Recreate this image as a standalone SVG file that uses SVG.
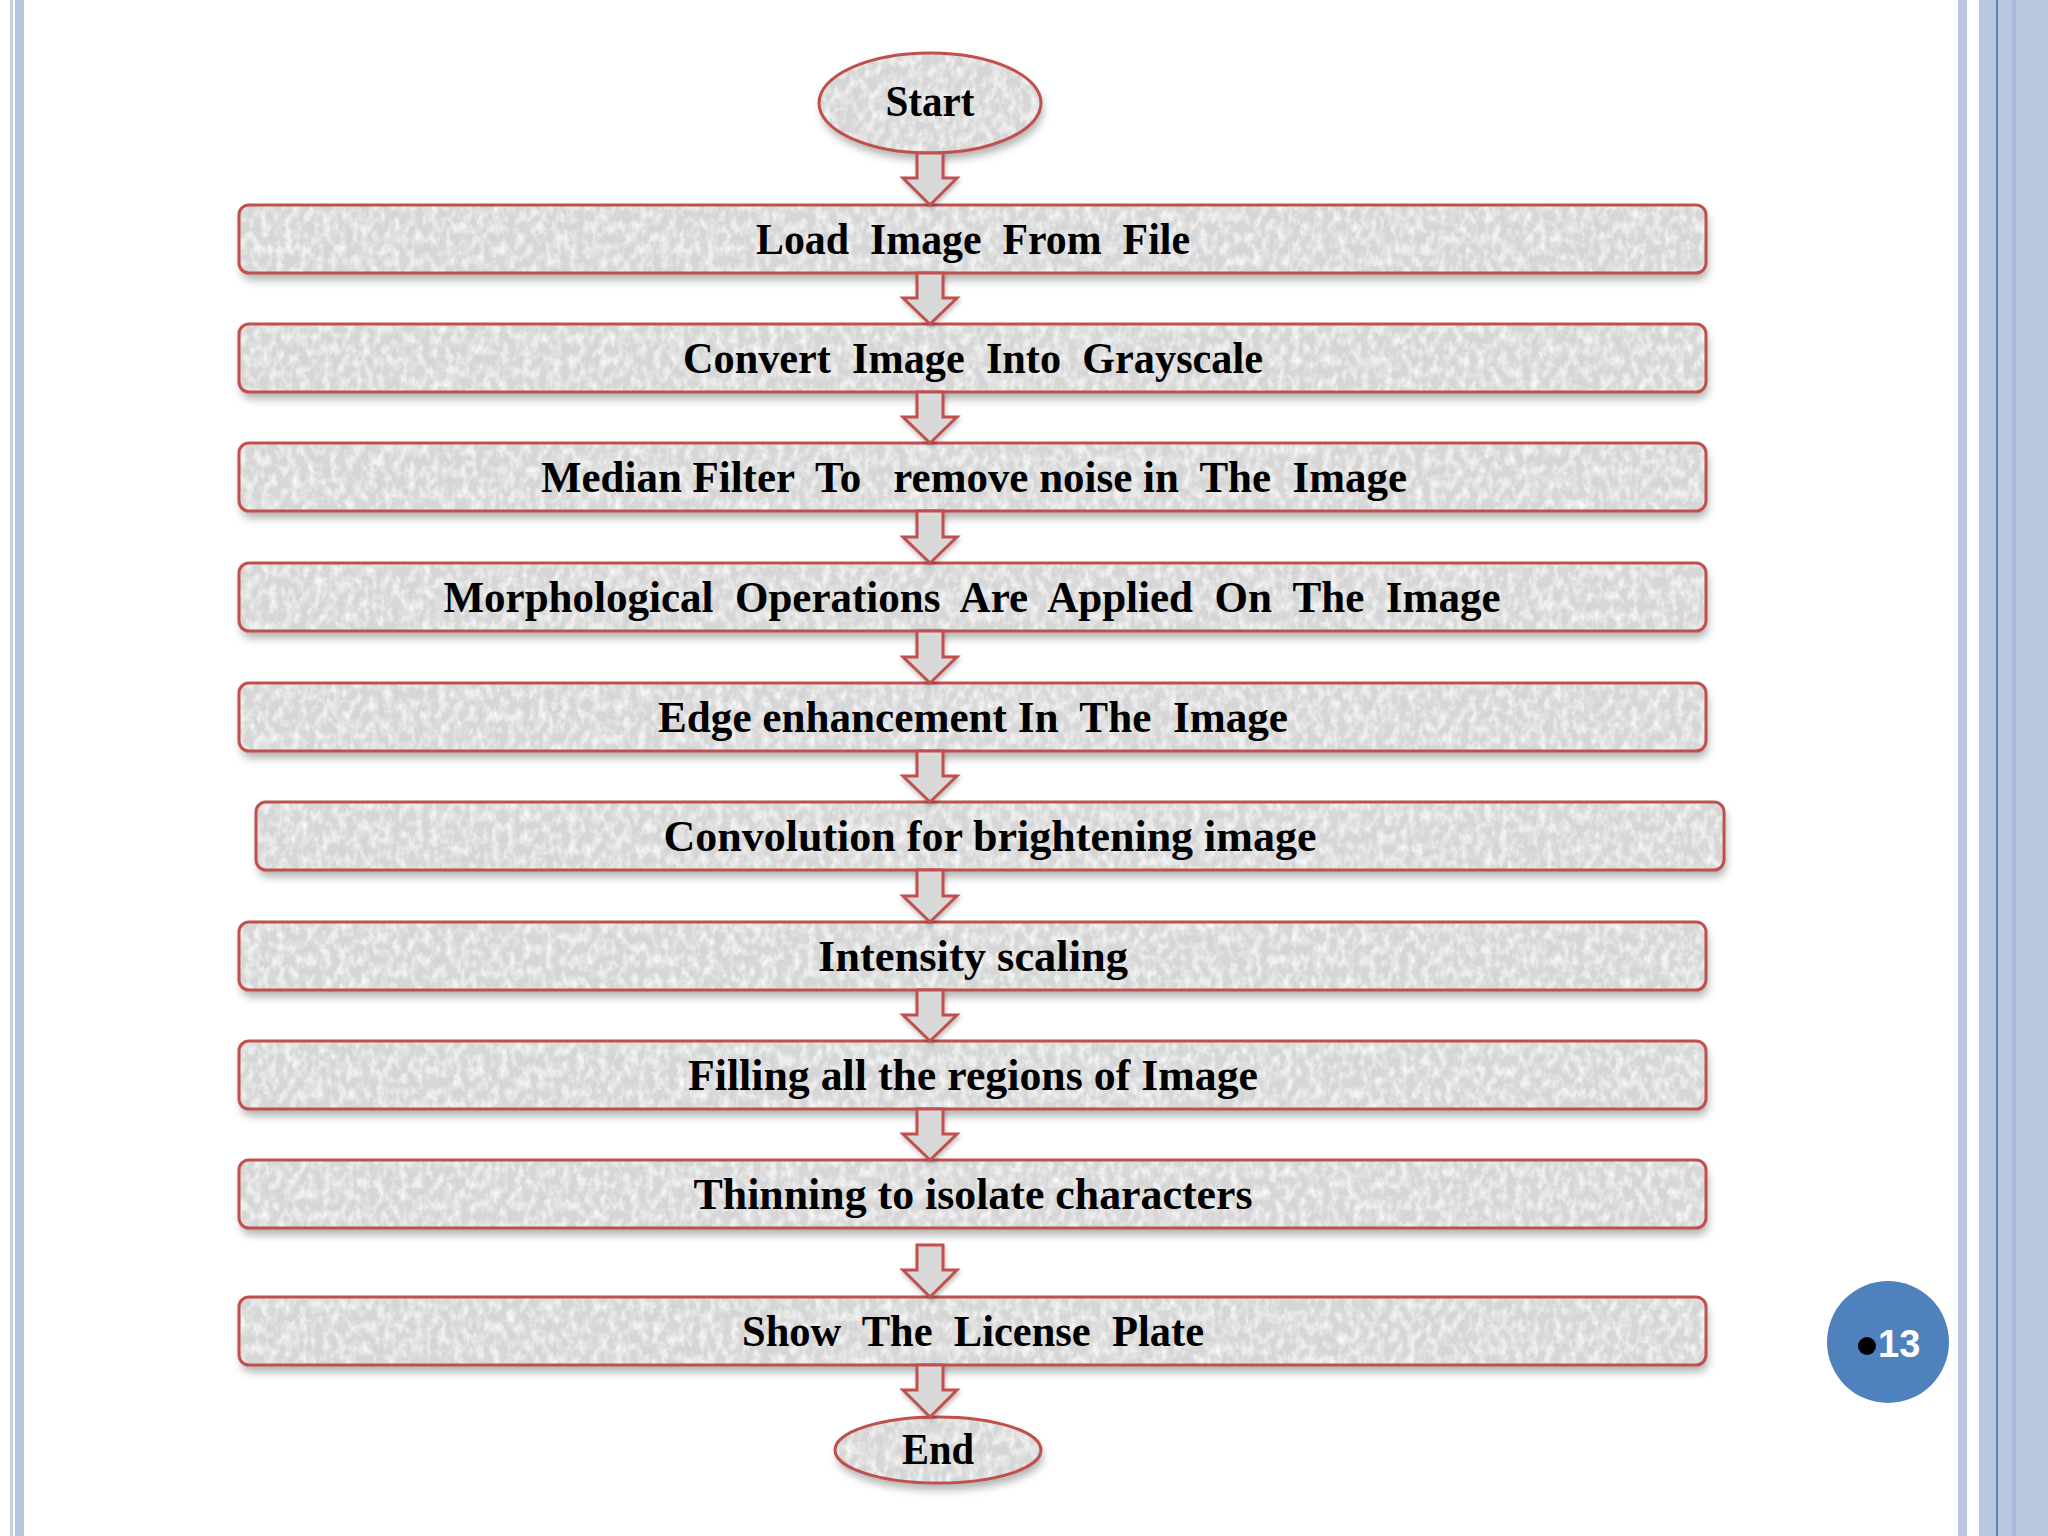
<svg xmlns="http://www.w3.org/2000/svg" width="2048" height="1536" viewBox="0 0 2048 1536">
<style>
.shape{fill:#d6d6d6;filter:url(#tex)}
.outline{fill:none;stroke:#c0504d;stroke-width:3}
.arrow{fill:#d8d8d8;stroke:#c0504d;stroke-width:3;stroke-linejoin:miter;filter:url(#ash)}
.lbl{font-family:"Palatino Linotype","Book Antiqua","Liberation Serif",serif;font-weight:bold;font-size:44px;fill:#000;text-anchor:middle;white-space:pre}
.pg{font-family:"Liberation Sans",Arial,sans-serif;font-weight:bold;font-size:38px;fill:#fff}
</style>
<defs>
<filter id="tex" x="-5%" y="-25%" width="110%" height="170%">
<feGaussianBlur in="SourceAlpha" stdDeviation="4"/>
<feOffset dx="2" dy="7" result="b"/>
<feFlood flood-color="#000" flood-opacity="0.3"/>
<feComposite in2="b" operator="in" result="shadow"/>
<feTurbulence type="fractalNoise" baseFrequency="0.13 0.09" numOctaves="4" seed="7" result="noise"/>
<feColorMatrix in="noise" type="matrix" values="0 0 0 0 1  0 0 0 0 1  0 0 0 0 1  0 0 0 1.6 -0.6" result="light"/>
<feComposite in="light" in2="SourceGraphic" operator="in" result="lightIn"/>
<feMerge><feMergeNode in="shadow"/><feMergeNode in="SourceGraphic"/><feMergeNode in="lightIn"/></feMerge>
</filter>
<filter id="ash" x="-30%" y="-20%" width="160%" height="150%">
<feGaussianBlur in="SourceAlpha" stdDeviation="2"/>
<feOffset dx="1" dy="3" result="b"/>
<feFlood flood-color="#000" flood-opacity="0.25"/>
<feComposite in2="b" operator="in" result="shadow"/>
<feMerge><feMergeNode in="shadow"/><feMergeNode in="SourceGraphic"/></feMerge>
</filter>
</defs>
<rect x="0" y="0" width="2048" height="1536" fill="#ffffff"/>
<g id="page-frame">
<rect x="10" y="0" width="3" height="1536" fill="#c5cfe5"/>
<rect x="15" y="0" width="9" height="1536" fill="#b7c5de"/>
<rect x="1958" y="0" width="9" height="1536" fill="#bcc6de"/>
<rect x="1979" y="0" width="69" height="1536" fill="#b8c8e0"/>
<rect x="1996" y="0" width="2" height="1536" fill="#5b84c0"/>
<rect x="2012" y="0" width="4" height="1536" fill="#a9b9da"/>
</g>
<g id="start">
<ellipse class="shape" cx="930" cy="103" rx="111" ry="50"/>
<ellipse class="outline" cx="930" cy="103" rx="111" ry="50"/>
<text class="lbl" x="930" y="116" textLength="89" lengthAdjust="spacingAndGlyphs">Start</text>
</g>
<g id="load">
<rect class="shape" x="239" y="205" width="1467" height="68" rx="10"/>
<rect class="outline" x="239" y="205" width="1467" height="68" rx="10"/>
<text class="lbl" x="973" y="254" textLength="434" lengthAdjust="spacingAndGlyphs" xml:space="preserve">Load  Image  From  File</text>
</g>
<g id="convert">
<rect class="shape" x="239" y="324" width="1467" height="68" rx="10"/>
<rect class="outline" x="239" y="324" width="1467" height="68" rx="10"/>
<text class="lbl" x="973" y="373" textLength="580" lengthAdjust="spacingAndGlyphs" xml:space="preserve">Convert  Image  Into  Grayscale</text>
</g>
<g id="median">
<rect class="shape" x="239" y="443" width="1467" height="68" rx="10"/>
<rect class="outline" x="239" y="443" width="1467" height="68" rx="10"/>
<text class="lbl" x="974" y="492" textLength="866" lengthAdjust="spacingAndGlyphs" xml:space="preserve">Median Filter  To   remove noise in  The  Image</text>
</g>
<g id="morph">
<rect class="shape" x="239" y="563" width="1467" height="68" rx="10"/>
<rect class="outline" x="239" y="563" width="1467" height="68" rx="10"/>
<text class="lbl" x="972" y="612" textLength="1057" lengthAdjust="spacingAndGlyphs" xml:space="preserve">Morphological  Operations  Are  Applied  On  The  Image</text>
</g>
<g id="edge">
<rect class="shape" x="239" y="683" width="1467" height="68" rx="10"/>
<rect class="outline" x="239" y="683" width="1467" height="68" rx="10"/>
<text class="lbl" x="973" y="732" textLength="630" lengthAdjust="spacingAndGlyphs" xml:space="preserve">Edge enhancement In  The  Image</text>
</g>
<g id="convolution">
<rect class="shape" x="256" y="802" width="1468" height="68" rx="10"/>
<rect class="outline" x="256" y="802" width="1468" height="68" rx="10"/>
<text class="lbl" x="990" y="851" textLength="653" lengthAdjust="spacingAndGlyphs">Convolution for brightening image</text>
</g>
<g id="intensity">
<rect class="shape" x="239" y="922" width="1467" height="68" rx="10"/>
<rect class="outline" x="239" y="922" width="1467" height="68" rx="10"/>
<text class="lbl" x="973" y="971" textLength="310" lengthAdjust="spacingAndGlyphs">Intensity scaling</text>
</g>
<g id="filling">
<rect class="shape" x="239" y="1041" width="1467" height="68" rx="10"/>
<rect class="outline" x="239" y="1041" width="1467" height="68" rx="10"/>
<text class="lbl" x="973" y="1090" textLength="570" lengthAdjust="spacingAndGlyphs">Filling all the regions of Image</text>
</g>
<g id="thinning">
<rect class="shape" x="239" y="1160" width="1467" height="68" rx="10"/>
<rect class="outline" x="239" y="1160" width="1467" height="68" rx="10"/>
<text class="lbl" x="973" y="1209" textLength="559" lengthAdjust="spacingAndGlyphs">Thinning to isolate characters</text>
</g>
<g id="show">
<rect class="shape" x="239" y="1297" width="1467" height="68" rx="10"/>
<rect class="outline" x="239" y="1297" width="1467" height="68" rx="10"/>
<text class="lbl" x="973" y="1346" textLength="462" lengthAdjust="spacingAndGlyphs" xml:space="preserve">Show  The  License  Plate</text>
</g>
<g id="end">
<ellipse class="shape" cx="938" cy="1450" rx="103" ry="33"/>
<ellipse class="outline" cx="938" cy="1450" rx="103" ry="33"/>
<text class="lbl" x="938" y="1464" textLength="72" lengthAdjust="spacingAndGlyphs">End</text>
</g>
<g id="connectors">
<path class="arrow" d="M917,153 L943,153 L943,178 L957,178 L930,205 L903,178 L917,178 Z"/>
<path class="arrow" d="M917,273 L943,273 L943,298 L957,298 L930,324 L903,298 L917,298 Z"/>
<path class="arrow" d="M917,392 L943,392 L943,417 L957,417 L930,443 L903,417 L917,417 Z"/>
<path class="arrow" d="M917,511 L943,511 L943,537 L957,537 L930,563 L903,537 L917,537 Z"/>
<path class="arrow" d="M917,631 L943,631 L943,657 L957,657 L930,683 L903,657 L917,657 Z"/>
<path class="arrow" d="M917,751 L943,751 L943,776 L957,776 L930,802 L903,776 L917,776 Z"/>
<path class="arrow" d="M917,870 L943,870 L943,896 L957,896 L930,922 L903,896 L917,896 Z"/>
<path class="arrow" d="M917,990 L943,990 L943,1015 L957,1015 L930,1041 L903,1015 L917,1015 Z"/>
<path class="arrow" d="M917,1109 L943,1109 L943,1134 L957,1134 L930,1160 L903,1134 L917,1134 Z"/>
<path class="arrow" d="M917,1245 L943,1245 L943,1270 L957,1270 L930,1297 L903,1270 L917,1270 Z"/>
<path class="arrow" d="M917,1365 L943,1365 L943,1390 L957,1390 L930,1417 L903,1390 L917,1390 Z"/>
</g>
<g id="page-number">
<circle cx="1888" cy="1342" r="61" fill="#4f81bd"/>
<circle cx="1867" cy="1346" r="9" fill="#000"/>
<text class="pg" x="1878" y="1357">13</text>
</g>
</svg>
